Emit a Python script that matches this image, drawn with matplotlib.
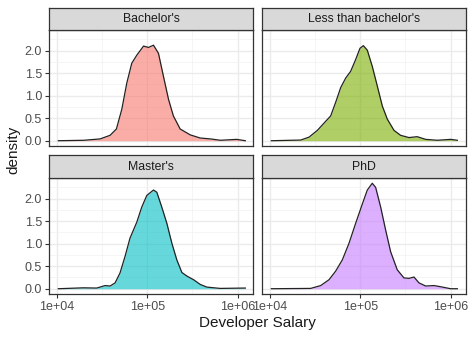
import matplotlib
matplotlib.use("Agg")
import matplotlib.pyplot as plt
import numpy as np

plt.rcParams['font.family'] = ['Liberation Sans', 'DejaVu Sans']

# facet labels, read left-to-right, top-to-bottom
groups = ["Bachelor's", "Less than bachelor's", "Master's", "PhD"]
fills = ["#F8766D", "#7CAE00", "#00BFC4", "#C77CFF"]

# density curves (x given as log10 of salary)
bach_x = [4.018, 4.30, 4.48, 4.59, 4.66, 4.72, 4.775, 4.83, 4.886, 4.96, 5.015,
          5.07, 5.125, 5.18, 5.236, 5.29, 5.365, 5.476, 5.587, 5.70, 5.81, 5.99, 6.085]
bach_y = [0.0, 0.01, 0.04, 0.12, 0.26, 0.70, 1.28, 1.72, 1.90, 2.10, 2.07,
          2.12, 1.94, 1.43, 0.92, 0.55, 0.26, 0.13, 0.06, 0.04, 0.01, 0.03, 0.0]

less_x = [4.018, 4.343, 4.435, 4.527, 4.60, 4.674, 4.729, 4.785, 4.84, 4.895, 4.95,
          4.998, 5.035, 5.079, 5.134, 5.19, 5.245, 5.30, 5.374, 5.447, 5.54, 5.63,
          5.724, 5.853, 6.0, 6.074]
less_y = [0.0, 0.015, 0.08, 0.23, 0.39, 0.55, 0.85, 1.18, 1.39, 1.54, 1.80,
          2.05, 2.11, 2.01, 1.65, 1.21, 0.77, 0.48, 0.23, 0.12, 0.07, 0.09,
          0.03, 0.01, 0.03, 0.01]

mast_x = [4.018, 4.295, 4.443, 4.535, 4.59, 4.646, 4.70, 4.756, 4.81, 4.886, 4.94,
          4.996, 5.07, 5.107, 5.162, 5.218, 5.273, 5.328, 5.384, 5.44, 5.513, 5.587,
          5.66, 5.808, 6.085]
mast_y = [0.0, 0.02, 0.015, 0.07, 0.06, 0.13, 0.35, 0.72, 1.12, 1.48, 1.81,
          2.07, 2.19, 2.14, 1.81, 1.45, 1.01, 0.64, 0.36, 0.28, 0.20, 0.095,
          0.036, 0.007, 0.015]

phd_x = [4.018, 4.453, 4.564, 4.656, 4.729, 4.803, 4.877, 4.95, 5.024, 5.079, 5.134,
         5.171, 5.227, 5.282, 5.337, 5.41, 5.484, 5.54, 5.595, 5.65, 5.724, 5.816,
         5.89, 6.0, 6.074]
phd_y = [0.0, 0.007, 0.07, 0.20, 0.39, 0.64, 1.01, 1.45, 1.88, 2.19, 2.34,
         2.25, 1.81, 1.30, 0.82, 0.42, 0.24, 0.23, 0.26, 0.13, 0.06, 0.07,
         0.044, 0.0, 0.0]

curves = [(bach_x, bach_y), (less_x, less_y), (mast_x, mast_y), (phd_x, phd_y)]

x_breaks = [1e4, 1e5, 1e6]
x_labels = ["1e+04", "1e+05", "1e+06"]
y_breaks = [0.0, 0.5, 1.0, 1.5, 2.0]

W, H = 474, 338
fig = plt.figure(figsize=(W / 100, H / 100), dpi=100)

# pixel boxes: (x0, x1) per column, (strip top, panel top, panel bottom) per row
cols = [(49, 253), (262, 466)]
rows = [(8, 30, 146), (155, 178, 294)]


def box(x0, x1, y0, y1):
    return [x0 / W, 1 - y1 / H, (x1 - x0) / W, (y1 - y0) / H]


for i, name in enumerate(groups):
    r, c = divmod(i, 2)
    x0, x1 = cols[c]
    st, pt, pb = rows[r]

    ax = fig.add_axes(box(x0, x1, pt, pb))
    ax.set_xscale('log')
    ax.set_xlim(10 ** 3.915, 10 ** 6.17)
    ax.set_ylim(-0.117, 2.457)

    # ggplot-ish grid
    for v in [10 ** 4.5, 10 ** 5.5]:
        ax.axvline(v, color="#F2F2F2", lw=0.5, zorder=0)
    for v in x_breaks:
        ax.axvline(v, color="#EBEBEB", lw=1.0, zorder=0)
    for v in [0.25, 0.75, 1.25, 1.75, 2.25]:
        ax.axhline(v, color="#F2F2F2", lw=0.5, zorder=0)
    for v in y_breaks:
        ax.axhline(v, color="#EBEBEB", lw=1.0, zorder=0)

    xs = 10 ** np.array(curves[i][0])
    ys = np.array(curves[i][1])
    ax.fill_between(xs, 0, ys, color=fills[i], alpha=0.6, lw=0, zorder=2)
    ax.plot(xs, ys, color="#222222", lw=0.9, zorder=3)

    ax.minorticks_off()
    ax.set_xticks(x_breaks)
    ax.set_yticks(y_breaks)
    ax.tick_params(colors="#333333", length=3, width=0.8, labelsize=9,
                   labelcolor="#4D4D4D", pad=2)
    if r == 1:
        ax.set_xticklabels(x_labels)
    else:
        ax.tick_params(axis='x', length=0)
        ax.set_xticklabels([])
    if c == 0:
        ax.set_yticklabels(["%.1f" % v for v in y_breaks])
    else:
        ax.tick_params(axis='y', length=0)
        ax.set_yticklabels([])
    for s in ax.spines.values():
        s.set_color("#333333")
        s.set_linewidth(0.9)

    # facet strip
    sax = fig.add_axes(box(x0, x1, st, pt))
    sax.set_facecolor("#D9D9D9")
    sax.set_xticks([])
    sax.set_yticks([])
    for s in sax.spines.values():
        s.set_color("#333333")
        s.set_linewidth(0.9)
    sax.text(0.5, 0.5, name, ha='center', va='center', fontsize=8.8,
             color="#1A1A1A", transform=sax.transAxes)

fig.text(257 / W, 1 - 323 / H, "Developer Salary", ha='center', va='center',
         fontsize=11, color="#1A1A1A")
fig.text(13 / W, 1 - 150 / H, "density", ha='center', va='center',
         fontsize=11, color="#1A1A1A", rotation=90)

fig.savefig("out.png", dpi=100)
